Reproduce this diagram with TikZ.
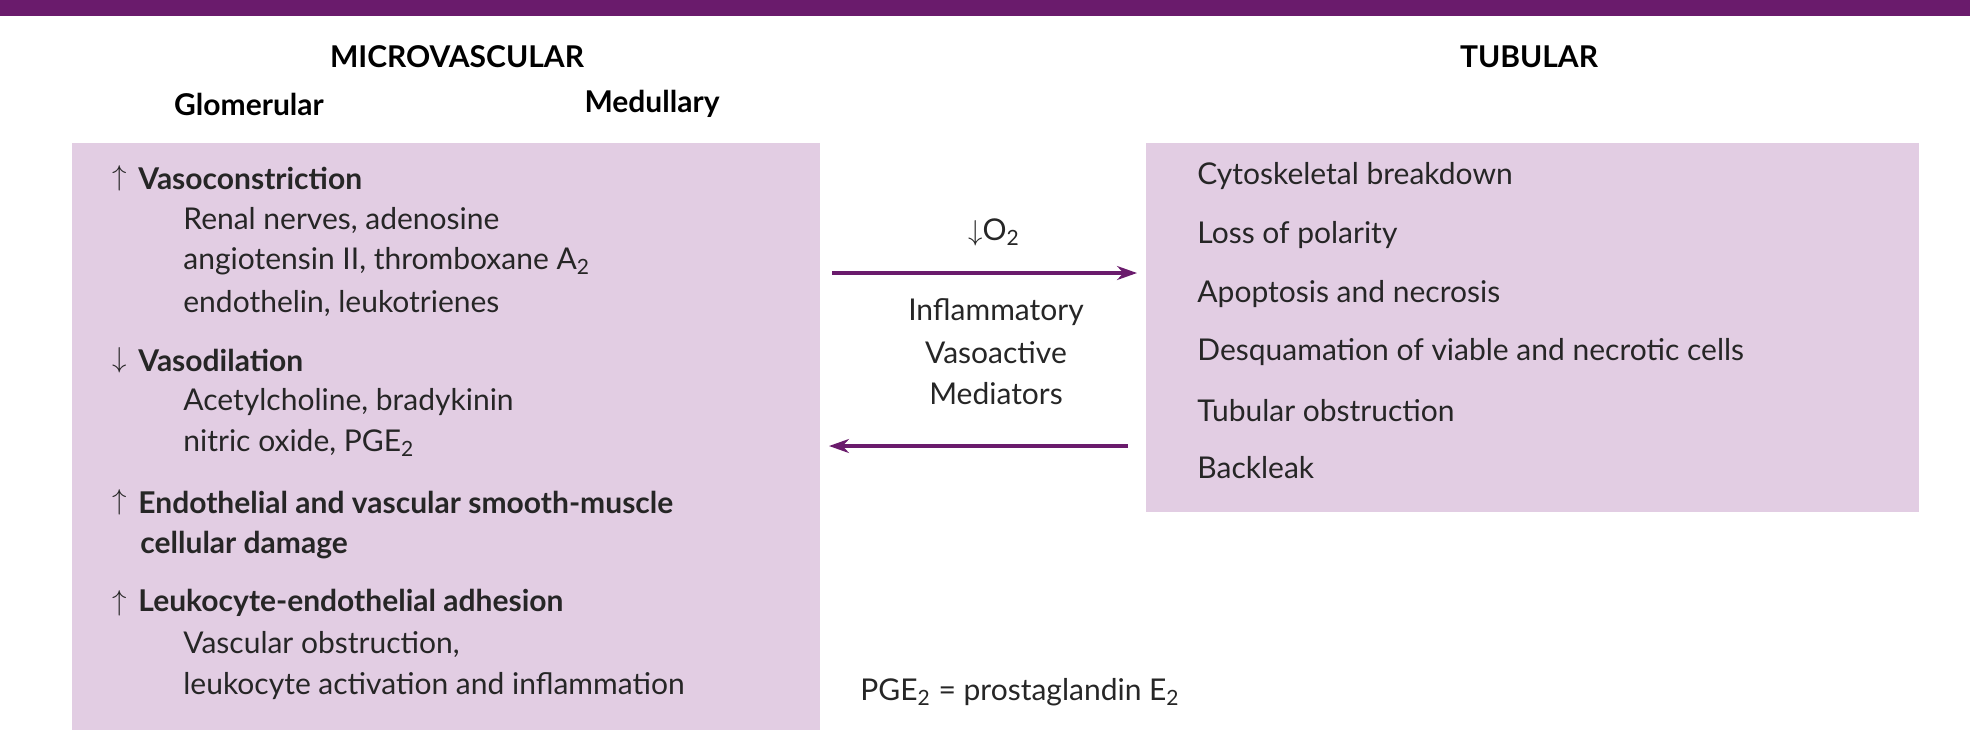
\documentclass[tikz,border=0pt]{standalone}
\usepackage{fontspec}
\setmainfont{Lato}
\usetikzlibrary{arrows.meta}
\definecolor{barpurple}{HTML}{6A1B6C}
\definecolor{boxfill}{HTML}{E2CDE3}
\begin{document}
\begin{tikzpicture}[x=0.5pt,y=-0.5pt,
  txt/.style={anchor=west,inner sep=0pt,font=\fontsize{15}{18}\selectfont,text=black!85},
  bld/.style={txt,font=\fontsize{15}{18}\selectfont\bfseries},
  head/.style={inner sep=0pt,font=\fontsize{15}{18}\selectfont\bfseries},
  ctr/.style={inner sep=0pt,font=\fontsize{15}{18}\selectfont,text=black!85},
  conn/.style={barpurple,line width=1.6pt,-{Stealth[length=10pt,width=7pt]}}]
\useasboundingbox (0,0) rectangle (1970,751);
\fill[barpurple] (0,0) rectangle (1970,16);
\fill[boxfill] (72,143) rectangle (820,730);
\fill[boxfill] (1146,143) rectangle (1919,512);
\node[head] (mv) at (457,57) {MICROVASCULAR};
\node[head] (gl) at (249,104) {Glomerular};
\node[head] (md) at (652,104) {Medullary};
\node[head] (tb) at (1529,57) {TUBULAR};
% left text
\node[txt] (a1) at (112,178) {$\uparrow$};
\node[bld] (l1) at (138,178) {Vasoconstriction};
\node[txt] (l2) at (183,220) {Renal nerves, adenosine};
\node[txt] (l3) at (183,261) {angiotensin II, thromboxane A\textsubscript{2}};
\node[txt] (l4) at (183,303) {endothelin, leukotrienes};
\node[txt] (a2) at (112,360) {$\downarrow$};
\node[bld] (l5) at (138,360) {Vasodilation};
\node[txt] (l6) at (183,402) {Acetylcholine, bradykinin};
\node[txt] (l7) at (183,443) {nitric oxide, PGE\textsubscript{2}};
\node[txt] (a3) at (112,502) {$\uparrow$};
\node[bld] (l8) at (138,502) {Endothelial and vascular smooth-muscle};
\node[bld] (l9) at (140,545) {cellular damage};
\node[txt] (a4) at (112,603) {$\uparrow$};
\node[bld] (l10) at (138,603) {Leukocyte-endothelial adhesion};
\node[txt] (l11) at (183,644) {Vascular obstruction,};
\node[txt] (l12) at (183,686) {leukocyte activation and inflammation};
% right text
\node[txt] (r1) at (1197,176) {Cytoskeletal breakdown};
\node[txt] (r2) at (1197,235) {Loss of polarity};
\node[txt] (r3) at (1197,294) {Apoptosis and necrosis};
\node[txt] (r4) at (1197,352) {Desquamation of viable and necrotic cells};
\node[txt] (r5) at (1197,411) {Tubular obstruction};
\node[txt] (r6) at (1197,468) {Backleak};
% middle
\node[ctr] (o2) at (994,232) {$\downarrow$O\textsubscript{2}};
\node[ctr] (m1) at (996,312) {Inflammatory};
\node[ctr] (m2) at (996,353) {Vasoactive};
\node[ctr] (m3) at (996,394) {Mediators};
\coordinate (t1) at (832,273); \coordinate (t2) at (1137,273);
\coordinate (b1) at (1128,446); \coordinate (b2) at (829,446);
\draw[conn] (t1) -- (t2);
\draw[conn] (b1) -- (b2);
\node[txt] (fn) at (860,692) {PGE\textsubscript{2} = prostaglandin E\textsubscript{2}};
\end{tikzpicture}
\end{document}
